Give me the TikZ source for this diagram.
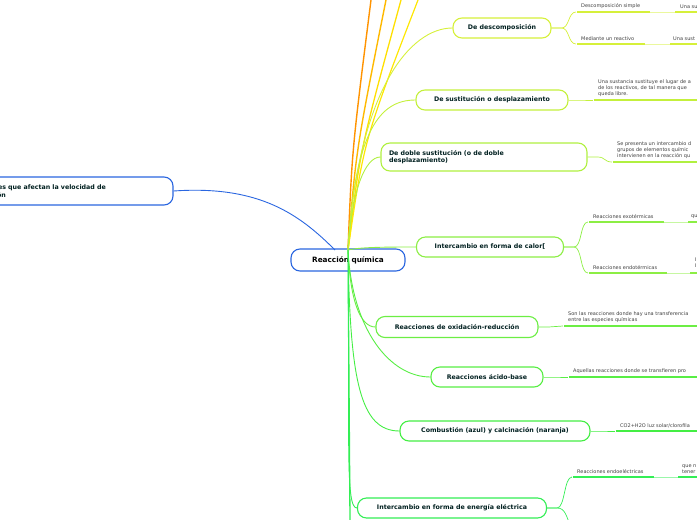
\documentclass[tikz,border=0pt]{standalone}
\usepackage{fontspec}
\setmainfont{DejaVu Sans}
\begin{document}
\begin{tikzpicture}[x=1pt,y=-1pt,
 topic/.style={draw=#1,line width=1.1pt,rounded corners=9pt,fill=white,font=\fontsize{6.3}{7.5}\selectfont\bfseries,text=black!75!teal,inner sep=0pt,align=left},
 sub/.style={font=\fontsize{5}{6}\selectfont,text=black!75,anchor=south west,inner sep=0pt,align=left},
 conn/.style={draw=#1,line width=0.9pt}]
\useasboundingbox (0,0) rectangle (697,520);
\clip (0,0) rectangle (697,520);
\definecolor{cA}{HTML}{D6F03A}\definecolor{cB}{HTML}{C4F03C}\definecolor{cC}{HTML}{B0F040}
\definecolor{cD}{HTML}{8CEE44}\definecolor{cE}{HTML}{6CEE44}\definecolor{cF}{HTML}{58EE44}
\definecolor{cG}{HTML}{44EE44}\definecolor{cH}{HTML}{33EE55}\definecolor{bl}{HTML}{2A66E0}
% top lines
\coordinate (o) at (348,250);
\coordinate (t1) at (371,0);\coordinate (t2) at (386,0);\coordinate (t3) at (401,0);\coordinate (t4) at (418,0);
\draw[conn=orange!85!yellow,line width=1.4pt] (o) .. controls (352,150) .. (t1);
\draw[conn=orange!55!yellow,line width=1.4pt] (o) .. controls (356,150) .. (t2);
\draw[conn=orange!25!yellow,line width=1.3pt] (o) .. controls (360,150) .. (t3);
\draw[conn=yellow!90!orange,line width=1.2pt] (o) .. controls (364,140) .. (t4);
\coordinate (b1) at (350,520);
\draw[conn=cH,line width=1.3pt] (o) -- (b1);
% topics
\node[topic=cA,minimum width=98pt,minimum height=20pt] (dec) at (502,28) {De descomposición};
\node[topic=cB,minimum width=152pt,minimum height=20pt] (sus) at (492,100) {De sustitución o desplazamiento};
\node[topic=cC,text width=190pt,minimum height=28pt,inner xsep=8pt] (dob) at (484,157) {De doble sustitución (o de doble\\desplazamiento)};
\node[topic=cD,minimum width=147pt,minimum height=20pt] (cal) at (490,247) {Intercambio en forma de calor[};
\node[topic=cE,minimum width=162pt,minimum height=21pt] (oxi) at (457,327) {Reacciones de oxidación-reducción};
\node[topic=cF,minimum width=112pt,minimum height=20pt] (aci) at (487,377) {Reacciones ácido-base};
\node[topic=cG,minimum width=190pt,minimum height=20pt] (com) at (495,431) {Combustión (azul) y calcinación (naranja)};
\node[topic=cH,minimum width=189pt,minimum height=20pt] (ele) at (452,508) {Intercambio en forma de energía eléctrica};
\node[topic=bl,text width=170pt,minimum height=28pt,inner xsep=8pt] (fac) at (80,191) {res que afectan la velocidad de\\ión};
\node[topic=bl,minimum width=114pt,minimum height=22pt,font=\fontsize{7.3}{8.5}\selectfont\bfseries,text=black] (rq) at (348,260) {Reacción química};
% connectors
\draw[conn=cA] (o) .. controls (358,90) and (410,28) .. (dec.west);
\draw[conn=cB] (o) .. controls (355,130) and (380,100) .. (sus.west);
\draw[conn=cC] (o) .. controls (352,190) and (365,157) .. (dob.west);
\draw[conn=cD] (o) .. controls (360,247) and (390,247) .. (cal.west);
\draw[conn=cE] (o) .. controls (350,300) and (360,327) .. (oxi.west);
\draw[conn=cF] (o) .. controls (352,330) and (390,377) .. (aci.west);
\draw[conn=cG] (o) .. controls (350,380) and (360,431) .. (com.west);
\draw[conn=cH] (o) .. controls (350,440) and (345,508) .. (ele.west);
\draw[conn=bl] (fac.east) .. controls (260,185) and (300,215) .. (335,250);
% children helper
\newcommand{\kid}[7]{% node, from, x1, y, x2, text, color
 \coordinate (#1s) at (#3,#4);\coordinate (#1e) at (#5,#4);
 \node[sub] (#1) at ([xshift=5pt,yshift=3pt]#1s) {#6};
 \draw[conn=#7,line width=0.7pt] (#2) -- ++(10,0) .. controls ++(8,0) and ([xshift=-8pt]#1s) .. (#1s);
 \draw[#7,line width=1.5pt] ([xshift=1pt]#1s) -- (#1e);}
\kid{k1}{dec.east}{576}{12}{650}{Descomposición simple}{cA}
\kid{k2}{dec.east}{576}{44}{645}{Mediante un reactivo}{cA}
\draw[cA!50,line width=0.6pt] (k1e) -- (675,12); \draw[cA,line width=1.5pt] (675,12) -- (697,12);
\node[sub] (k1b) at (680,9) {Una su};
\draw[cA!50,line width=0.6pt] (k2e) -- (670,44); \draw[cA,line width=1.5pt] (670,44) -- (697,44);
\node[sub] (k2b) at (673,41) {Una sust};
\kid{k3}{sus.east}{593}{100}{697}{Una sustancia sustituye el lugar de a\\de los reactivos, de tal manera que\\queda libre.}{cB}
\kid{k4}{dob.east}{612}{162}{697}{Se presenta un intercambio d\\grupos de elementos químic\\intervienen en la reacción qu}{cC}
\kid{k5}{cal.east}{588}{222}{664}{Reacciones exotérmicas}{cD}
\kid{k6}{cal.east}{588}{273}{667}{Reacciones endotérmicas}{cD}
\draw[cD!50,line width=0.6pt] (k5e) -- (688,222); \draw[cD,line width=1.5pt] (688,222) -- (697,222);
\node[sub] (k5b) at (691,219) {qu};
\draw[cD!50,line width=0.6pt] (k6e) -- (690,273); \draw[cD,line width=1.5pt] (690,273) -- (697,273);
\node[sub] (k6b) at (695,268) {I\\I};
\kid{k7}{oxi.east}{563}{326}{697}{Son las reacciones donde hay una transferencia\\entre las especies químicas}{cE}
\kid{k8}{aci.east}{568}{377}{697}{Aquellas reacciones donde se transfieren pro}{cF}
\kid{k9}{com.east}{615}{431}{697}{CO2+H2O luz solar/clorofila}{cG}
\kid{k10}{ele.east}{572}{477}{654}{Reacciones endoeléctricas}{cH}
\draw[cH!50,line width=0.6pt] (k10e) -- (678,477); \draw[cH,line width=1.5pt] (678,477) -- (697,477);
\node[sub] (k10b) at (682,474) {que n\\tener};
\coordinate (k11) at (572,530);
\draw[conn=cH,line width=0.7pt] (ele.east) -- ++(10,0) .. controls ++(8,0) and (566,515) .. (k11);
\end{tikzpicture}
\end{document}
